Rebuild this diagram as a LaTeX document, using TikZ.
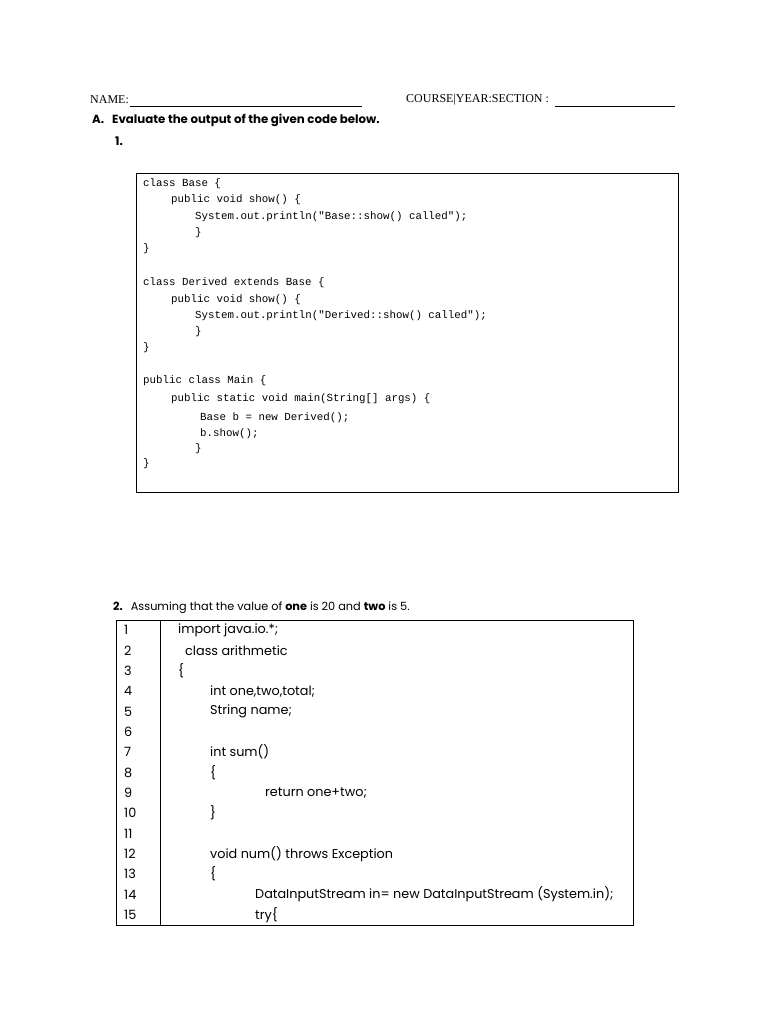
\documentclass[tikz,border=0pt]{standalone}
\usepackage{fontspec}
\setmainfont{Liberation Serif}
\newfontfamily\gothic{Poppins}
\newfontfamily\codefont{Liberation Mono}
\begin{document}
\begin{tikzpicture}[x=1pt,y=-1pt,
  cl/.style={anchor=west,inner sep=0pt,font=\codefont\fontsize{10.8}{11}\selectfont},
  tl/.style={anchor=west,inner sep=0pt,font=\gothic\fontsize{12.8}{13}\selectfont},
  hd/.style={anchor=west,inner sep=0pt}]
\useasboundingbox (0,0) rectangle (768,1024);
\fill[white] (0,0) rectangle (768,1024);
\node[hd,font=\fontsize{12}{13}\selectfont] (nm) at (90,100) {NAME:};
\coordinate (l1a) at (130,106); \coordinate (l1b) at (362,106);
\draw[line width=0.7] (l1a) -- (l1b);
\node[hd,font=\fontsize{12}{13}\selectfont] (cs) at (406,100) {COURSE|YEAR:SECTION :};
\coordinate (l2a) at (555,106); \coordinate (l2b) at (675,106);
\draw[line width=0.7] (l2a) -- (l2b);
\node[hd,font=\gothic\bfseries\fontsize{11.8}{12}\selectfont] (A) at (92,120) {A.\hspace{8pt}Evaluate the output of the given code below.};
\node[hd,font=\gothic\bfseries\fontsize{11.8}{12}\selectfont] (one) at (115,141) {1.};
\draw[line width=0.8] (136,173) rectangle (678,492);
\foreach \y/\x/\t [count=\i] in {
 184/143/{class Base \{},
 200/171/{public void show() \{},
 217/195/{System.out.println("Base::show() called");},
 233/195/{\}},
 249/143/{\}},
 283/143/{class Derived extends Base \{},
 300/171/{public void show() \{},
 316/195/{System.out.println("Derived::show() called");},
 332/195/{\}},
 348/143/{\}},
 381/143/{public class Main \{},
 399/171/{public static void main(String[] args) \{},
 418/200/{Base b = new Derived();},
 434/200/{b.show();},
 449/195/{\}},
 464/143/{\}}}
 { \node[cl] (c\i) at (\x,\y) {\t}; }
\node[hd,font=\gothic\fontsize{11.3}{12}\selectfont] (two) at (113,608) {\textbf{2.}\hspace{8pt}Assuming that the value of \textbf{one} is 20 and \textbf{two} is 5.};
\draw[line width=0.8] (116,620) rectangle (633,925);
\draw[line width=0.8] (160,620) -- (160,925);
\foreach \i in {1,...,15} { \node[tl] (n\i) at (124,{620+20.33*(\i-0.5)}) {\i}; }
\foreach \i/\x/\t in {
 1/178/{import java.io.*;},
 2/185/{class arithmetic},
 3/178/{\{},
 4/210/{int one,two,total;},
 5/210/{String name;},
 7/210/{int sum()},
 8/210/{\{},
 9/265/{return one+two;},
 10/210/{\}},
 12/210/{void num() throws Exception},
 13/210/{\{},
 14/255/{DataInputStream in= new DataInputStream (System.in);},
 15/255/{try\{}}
 { \node[tl] (t\i) at (\x,{620+20.33*(\i-0.5)}) {\t}; }
\end{tikzpicture}
\end{document}
